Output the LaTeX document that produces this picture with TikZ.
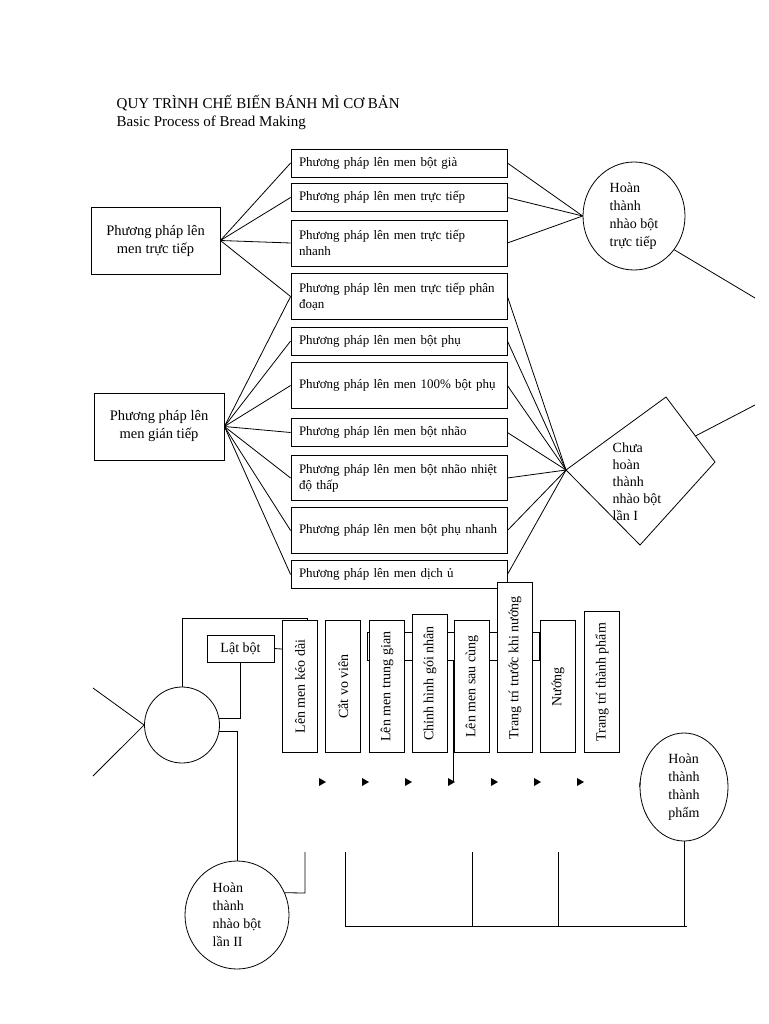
\documentclass[tikz,border=0pt]{standalone}
\usepackage{fontspec}
\setmainfont{Liberation Serif}
\usetikzlibrary{shapes.geometric,positioning,calc}
\tikzset{
  method/.style={draw,rectangle,minimum width=216pt,text width=200pt,align=left,font=\fontsize{13}{16}\selectfont,inner sep=4pt,fill=white},
  group/.style={draw,rectangle,align=center,font=\fontsize{14.5}{18}\selectfont,inner sep=4pt},
  state/.style={draw,ellipse,align=left,font=\fontsize{14}{18}\selectfont,fill=white},
  stage/.style={draw,rectangle,rotate=90,minimum height=35pt,anchor=south west,font=\fontsize{14}{17}\selectfont,fill=white,inner xsep=4pt}
}
\begin{document}
\begin{tikzpicture}[x=1pt,y=-1pt,line width=0.8pt]
    \useasboundingbox (0,0) rectangle (768,1024);
    \node[anchor=west,align=left,font=\fontsize{15}{18}\selectfont] (title) at (113,112)
      {QUY TRÌNH CHẾ BIẾN BÁNH MÌ CƠ BẢN\\Basic Process of Bread Making};

    % nhom phuong phap
    \node[group,minimum width=129pt,minimum height=67pt] (direct) at (155.5,240.5) {Phương pháp lên\\men trực tiếp};
    \node[group,minimum width=130pt,minimum height=67pt] (indirect) at (159,426.5) {Phương pháp lên\\men gián tiếp};

    % cac phuong phap
    \node[method,minimum height=28pt] (m1) at (399,163) {Phương pháp lên men bột già};
    \node[method,minimum height=28pt] (m2) at (399,197.5) {Phương pháp lên men trực tiếp};
    \node[method,minimum height=46pt] (m3) at (399,243) {Phương pháp lên men trực tiếp nhanh};
    \node[method,minimum height=46pt] (m4) at (399,296.5) {Phương pháp lên men trực tiếp phân đoạn};
    \node[method,minimum height=28pt] (m5) at (399,341) {Phương pháp lên men bột phụ};
    \node[method,minimum height=46pt] (m6) at (399,385.5) {Phương pháp lên men 100\% bột phụ};
    \node[method,minimum height=28pt] (m7) at (399,432.5) {Phương pháp lên men bột nhão};
    \node[method,minimum height=45pt] (m8) at (399,478) {Phương pháp lên men bột nhão nhiệt độ thấp};
    \node[method,minimum height=46pt] (m9) at (399,530.5) {Phương pháp lên men bột phụ nhanh};
    \node[method,minimum height=28pt] (m10) at (399,574.5) {Phương pháp lên men dịch ủ};

    % trang thai bot
    \node[state,minimum width=102pt,minimum height=108pt,inner sep=0pt] (done1) at (634,216) {Hoàn\\thành\\nhào bột\\trực tiếp};
    \coordinate (dl) at (566,470);
    \coordinate (dt) at (666,397);
    \coordinate (dr) at (715,462);
    \coordinate (db) at (640,545);
    \draw (dl) -- (dt) -- (dr) -- (db) -- cycle;
    \node[align=left,font=\fontsize{14}{17}\selectfont] (notdone) at (637,482) {Chưa\\hoàn\\thành\\nhào bột\\lần I};

    \foreach \m in {m1,m2,m3,m4} \draw (direct.east) -- (\m.west);
    \foreach \m in {m1,m2,m3} \draw (\m.east) -- (done1.west);
    \foreach \m in {m4,m5,m6,m7,m8,m9,m10} \draw (indirect.east) -- (\m.west);
    \foreach \m in {m4,m5,m6,m7,m8,m9,m10} \draw (\m.east) -- (dl);
    \coordinate (e1) at (755,298);
    \coordinate (e2) at (755,405);
    \draw (done1.-40) -- (e1);
    \draw ($(dt)!0.6!(dr)$) -- (e2);

    % phan duoi
    \node[state,minimum width=75pt,minimum height=76pt] (mix) at (182,725) {};
    \coordinate (f1) at (93,688);
    \coordinate (f2) at (93,776);
    \draw (f1) -- (mix.west) -- (f2);
    \node[draw,font=\fontsize{14}{17}\selectfont,minimum width=67pt,minimum height=27pt] (flip) at (240.5,648.5) {Lật bột};
    \draw (mix.10) -| (flip.south);
    \draw (mix.north) |- (307,618) -- (307,720);
    \draw (flip.east) -- (296,650) -- (296,720);
    \node[state,minimum width=104pt,minimum height=108pt,inner sep=0pt] (done2) at (237,915) {Hoàn\\thành\\nhào bột\\lần II};
    \draw (mix.-10) -| (done2.north);
    \draw (done2.25) -- (305,893) -- (305,852);

    \draw[fill=white] (367,632) rectangle (539,660);
    \node[stage,minimum width=132pt] (s1) at (318,753) {Lên men kéo dài};
    \node[stage,minimum width=132pt] (s2) at (361,753) {Cắt vo viên};
    \node[stage,minimum width=132pt] (s3) at (405,753) {Lên men trung gian};
    \node[stage,minimum width=138pt] (s4) at (448,753) {Chỉnh hình gói nhân};
    \node[stage,minimum width=132pt] (s5) at (490,753) {Lên men sau cùng};
    \node[stage,minimum width=170pt] (s6) at (533,753) {Trang trí trước khi nướng};
    \node[stage,minimum width=132pt] (s7) at (576,753) {Nướng};
    \node[stage,minimum width=141pt] (s8) at (620,753) {Trang trí thành phẩm};
    \draw (453,660) -- (453,782);
    \foreach \x in {322,365,408,451,494,537,580}
      \fill (\x-3,778) -- (\x+4,782) -- (\x-3,786) -- cycle;

    \node[state,minimum width=88pt,minimum height=108pt,inner sep=0pt] (done3) at (684,787) {Hoàn\\thành\\thành\\phẩm};
    \coordinate (g0) at (640,782);
    \draw (g0) -- (done3.west);
    \coordinate (b0) at (345,926);
    \coordinate (b1) at (687,926);
    \draw (345,852) -- (b0) -- (b1);
    \foreach \x in {472,558} \draw (\x,852) -- (\x,926);
    \draw (done3.south) -- (done3.south |- b1);
\end{tikzpicture}
\end{document}
